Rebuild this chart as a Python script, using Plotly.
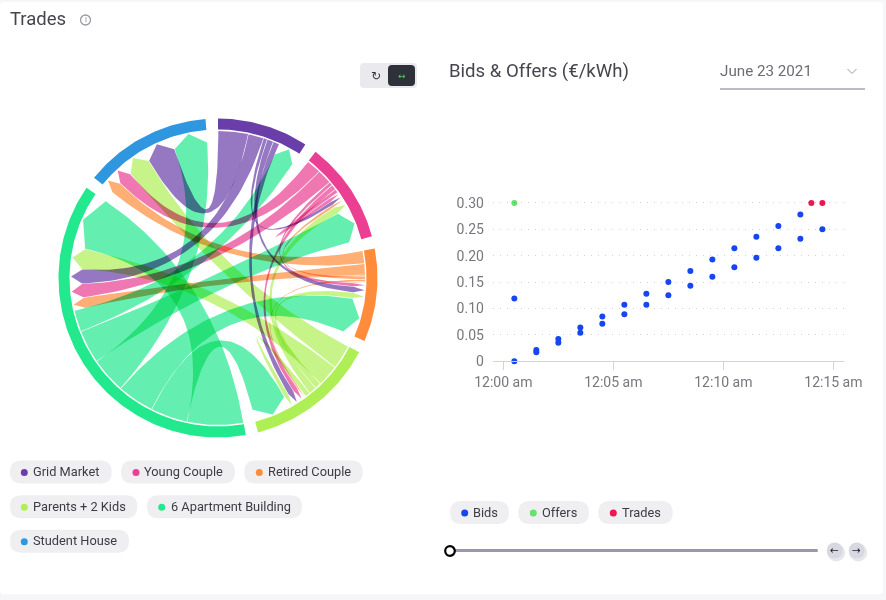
import numpy as np
import plotly.graph_objects as go

W, H = 886, 600

# chord data, names in clockwise order round the circle
groups = ["Grid Market", "Young Couple", "Retired Couple", "Parents + 2 Kids", "6 Apartment Building", "Student House"]
group_colors = ["#6a3ea8", "#ea3f92", "#ff8c3a", "#aeef55", "#22e88e", "#2f96e0"]

# one row per flow: from, to, energy traded
flow_from = [0, 0, 0, 0, 0,
             1, 1, 1, 1, 1,
             2, 2, 2, 2, 2,
             3, 3, 3, 3, 3,
             4, 4, 4, 4, 4, 4]
flow_to = [5, 4, 1, 2, 3,
           5, 4, 2, 3, 1,
           5, 4, 2, 1, 3,
           5, 4, 2, 1, 3,
           4, 3, 2, 5, 1, 0]
flow_val = [11.8, 6.1, 1.5, 2.5, 2.5,
            5.8, 5.8, 1.5, 2.0, 1.5,
            5.0, 4.4, 0.6, 1.2, 0.8,
            9.5, 8.5, 2.5, 3.0, 2.0,
            22.0, 14.5, 14.5, 14.0, 13.0, 8.5]

# order of the ends inside each group going clockwise ("o" leaving, "i" arriving), by flow row
group_ends = [
    [("o", 0), ("o", 1), ("o", 2), ("o", 3), ("o", 4), ("i", 25)],
    [("o", 5), ("o", 6), ("o", 7), ("o", 8), ("o", 9), ("i", 9), ("i", 2), ("i", 13), ("i", 18), ("i", 24)],
    [("o", 10), ("o", 11), ("o", 12), ("o", 13), ("o", 14), ("i", 12), ("i", 7), ("i", 3), ("i", 17), ("i", 22)],
    [("o", 15), ("o", 16), ("o", 17), ("o", 18), ("o", 19), ("i", 14), ("i", 8), ("i", 4), ("i", 19), ("i", 21)],
    [("o", 20), ("o", 21), ("o", 22), ("o", 23), ("o", 24), ("o", 25), ("i", 11), ("i", 6), ("i", 1), ("i", 16), ("i", 20)],
    [("i", 10), ("i", 5), ("i", 15), ("i", 0), ("i", 23)],
]

# scatter data
bid_times = ["00:00:30", "00:00:30", "00:01:30", "00:01:30", "00:02:30", "00:02:30", "00:03:30", "00:03:30",
             "00:04:30", "00:04:30", "00:05:30", "00:05:30", "00:06:30", "00:06:30", "00:07:30", "00:07:30",
             "00:08:30", "00:08:30", "00:09:30", "00:09:30", "00:10:30", "00:10:30", "00:11:30", "00:11:30",
             "00:12:30", "00:12:30", "00:13:30", "00:13:30", "00:14:30"]
bid_prices = [0.119, 0.0, 0.0215, 0.017, 0.042, 0.035, 0.064, 0.054,
              0.085, 0.071, 0.107, 0.089, 0.128, 0.107, 0.15, 0.125,
              0.171, 0.143, 0.193, 0.16, 0.214, 0.178, 0.236, 0.196,
              0.256, 0.214, 0.278, 0.232, 0.25]
offer_times = ["00:00:30"]
offer_prices = [0.30]
trade_times = ["00:14:00", "00:14:30"]
trade_prices = [0.30, 0.30]

x_ticks = ["00:00:00", "00:05:00", "00:10:00", "00:15:00"]
x_labels = ["12:00 am", "12:05 am", "12:10 am", "12:15 am"]
y_ticks = [0, 0.05, 0.10, 0.15, 0.20, 0.25, 0.30]
y_labels = ["0", "0.05", "0.10", "0.15", "0.20", "0.25", "0.30"]

DAY = "2021-06-23 "
FONT = "Roboto"
TEXT = "#3c3c44"
CHIP = "#efeff2"


def px(x):
    return x / W


def py(y):
    return 1 - y / H


def pol(r, a):
    # a in radians clockwise from 12 o'clock
    return r * np.sin(a), r * np.cos(a)


def arc(r, a0, a1):
    a = np.linspace(a0, a1, max(2, int(abs(a1 - a0) * 60)))
    return r * np.sin(a), r * np.cos(a)


def bend(p0, p1):
    # quadratic curve pulled towards the centre of the circle
    t = np.linspace(0, 1, 50)
    return (1 - t) ** 2 * p0[0] + t ** 2 * p1[0], (1 - t) ** 2 * p0[1] + t ** 2 * p1[1]


R_OUT, R_IN, R_RIB, HEAD = 159.5, 148.5, 147, 11
PAD = np.radians(4.5)
SEAM = np.radians(0.12)  # white hairline between neighbouring ends

totals = [sum(flow_val[k] for _, k in ends) for ends in group_ends]
scale = (2 * np.pi - PAD * len(groups)) / sum(totals)

fig = go.Figure()

# lay out group arcs and the two ends of each flow
group_arcs = []
start_ang, end_ang = {}, {}
a = 0.0
for g, ends in enumerate(group_ends):
    a0 = a
    for kind, k in ends:
        a1 = a + flow_val[k] * scale
        (start_ang if kind == "o" else end_ang)[k] = (a + SEAM, a1 - SEAM)
        a = a1
    group_arcs.append((a0, a))
    a += PAD

for k in range(len(flow_val)):
    sa0, sa1 = start_ang[k]
    ta0, ta1 = end_ang[k]
    r2 = R_RIB - HEAD
    xs, ys = arc(R_RIB, sa0, sa1)
    cx1, cy1 = bend(pol(R_RIB, sa1), pol(r2, ta0))
    tip = pol(R_RIB, (ta0 + ta1) / 2)
    sh2 = pol(r2, ta1)
    cx2, cy2 = bend(sh2, pol(R_RIB, sa0))
    col = group_colors[flow_from[k]]
    rgb = tuple(int(col[i:i + 2], 16) for i in (1, 3, 5))
    fig.add_trace(go.Scatter(
        x=np.concatenate([xs, cx1, [tip[0]], cx2]),
        y=np.concatenate([ys, cy1, [tip[1]], cy2]),
        mode="lines",
        fill="toself",
        fillcolor="rgba(%d,%d,%d,0.7)" % rgb,
        line=dict(width=0),
        hoverinfo="skip",
        showlegend=False,
    ))

for g, (a0, a1) in enumerate(group_arcs):
    xo, yo = arc(R_OUT, a0, a1)
    xi, yi = arc(R_IN, a1, a0)
    fig.add_trace(go.Scatter(
        x=np.concatenate([xo, xi]),
        y=np.concatenate([yo, yi]),
        mode="lines",
        fill="toself",
        fillcolor=group_colors[g],
        line=dict(width=0),
        name=groups[g],
        hoverinfo="name",
        showlegend=False,
    ))

# scatter panel
for name, tt, pp, col in [("Bids", bid_times, bid_prices, "#1546f0"),
                          ("Offers", offer_times, offer_prices, "#66e36a"),
                          ("Trades", trade_times, trade_prices, "#f0144f")]:
    fig.add_trace(go.Scatter(
        x=[DAY + t for t in tt],
        y=pp,
        mode="markers",
        marker=dict(color=col, size=6),
        name=name,
        xaxis="x2",
        yaxis="y2",
        cliponaxis=False,
        showlegend=False,
    ))

shapes = []
notes = []


def rect(x0, y0, x1, y1, color, radius=0, line=None):
    r = radius
    path = (f"M {px(x0 + r)} {py(y0)} L {px(x1 - r)} {py(y0)} Q {px(x1)} {py(y0)} {px(x1)} {py(y0 + r)} "
            f"L {px(x1)} {py(y1 - r)} Q {px(x1)} {py(y1)} {px(x1 - r)} {py(y1)} "
            f"L {px(x0 + r)} {py(y1)} Q {px(x0)} {py(y1)} {px(x0)} {py(y1 - r)} "
            f"L {px(x0)} {py(y0 + r)} Q {px(x0)} {py(y0)} {px(x0 + r)} {py(y0)} Z")
    shapes.append(dict(type="path", xref="paper", yref="paper", path=path, fillcolor=color,
                       line=line or dict(width=0), layer="below"))


def circle(x, y, r, color, line=None, layer="above"):
    shapes.append(dict(type="circle", xref="paper", yref="paper", x0=px(x - r), x1=px(x + r),
                       y0=py(y + r), y1=py(y - r), fillcolor=color, line=line or dict(width=0), layer=layer))


def text(x, y, s, size=12.8, color=TEXT, anchor="left", family=FONT):
    notes.append(dict(xref="paper", yref="paper", x=px(x), y=py(y), text=s, showarrow=False,
                      xanchor=anchor, yanchor="middle", borderpad=0, borderwidth=0, align="left",
                      font=dict(family=family, size=size, color=color)))


def seg(x0, y0, x1, y1, color, width):
    shapes.append(dict(type="line", xref="paper", yref="paper", x0=px(x0), x1=px(x1), y0=py(y0), y1=py(y1),
                       line=dict(color=color, width=width)))


def chip(x0, x1, yc, dot_x, text_x, label, color):
    rect(x0, yc - 11.5, x1, yc + 11.5, CHIP, 11.5)
    circle(dot_x, yc + 0.5, 3.5, color)
    text(text_x, yc - 0.5, label)


# page frame
rect(0, 0, 886, 600, "#f6f6f8")
rect(0, 2, 883, 594, "#ffffff", 4)

# header
text(10, 19.5, "Trades", size=18.5, color="#45454d")
circle(85.5, 20, 5, "#ffffff", dict(color="#9a9aa6", width=1.3))
text(85.5, 20, "i", size=8, color="#8a8a96", anchor="center")

rect(360, 63, 417, 88, "#e9e9ee", 4)
rect(388, 65, 415, 86, "#2e313a", 4)
text(375.5, 75.5, "↻", size=12, color="#33333a", anchor="center", family="DejaVu Sans")
text(401.5, 75.5, "↔", size=9, color="#5fc765", anchor="center", family="DejaVu Sans")

text(449, 71.5, "Bids & Offers (€/kWh)", size=18.6, color="#45454d")
text(720, 71.5, "June 23 2021", size=15.2, color="#6c6c74")
seg(847.5, 69, 852, 73.5, "#9a9aa6", 1)
seg(852, 73.5, 856.5, 69, "#9a9aa6", 1)
seg(720, 89, 865, 89, "#a5a3b2", 1.3)

# chord legend
chip(10, 111.7, 472, 24.3, 33.3, groups[0], group_colors[0])
chip(121, 235, 472, 136, 144.3, groups[1], group_colors[1])
chip(244.3, 362.7, 472, 259.3, 267.7, groups[2], group_colors[2])
chip(10, 137.3, 506.8, 24.3, 33.3, groups[3], group_colors[3])
chip(147, 302, 506.8, 161.7, 170.7, groups[4], group_colors[4])
chip(10, 129, 541.3, 24.3, 33.3, groups[5], group_colors[5])

# scatter legend
chip(450, 509, 512.5, 464.7, 472.7, "Bids", "#1546f0")
chip(518.3, 589, 512.5, 533.3, 541.7, "Offers", "#66e36a")
chip(598.3, 672.7, 512.5, 613.3, 622, "Trades", "#f0144f")

# slider
seg(450, 550.5, 817.7, 550.5, "#9a98a8", 3)
circle(450, 551, 4.8, "#ffffff", dict(color="#000000", width=2.2))
for bx, arrow in [(834.7, "←"), (856.7, "→")]:
    circle(bx + 1.5, 552.5, 9, "rgba(120,120,140,0.18)")
    circle(bx, 550.5, 8, "#d8d8e2")
    text(bx, 550, arrow, size=10.5, color="#222228", anchor="center", family="DejaVu Sans")

fig.update_layout(
    width=W,
    height=H,
    margin=dict(l=0, r=0, t=0, b=0),
    autosize=False,
    paper_bgcolor="#ffffff",
    plot_bgcolor="rgba(0,0,0,0)",
    showlegend=False,
    shapes=shapes,
    annotations=notes,
    font=dict(family=FONT, size=13, color="#77777f"),
    # chord panel, units are the circle radii above
    xaxis=dict(domain=[px(48), px(388)], range=[-170, 170], visible=False, fixedrange=True, automargin=False),
    yaxis=dict(domain=[py(448), py(108)], range=[-170, 170], visible=False, fixedrange=True, automargin=False),
    xaxis2=dict(
        domain=[px(492.7), px(844)],
        # axis runs from about 29 s before the first tick to about 29 s after the last
        range=["2021-06-22 23:59:31", "2021-06-23 00:15:29"],
        type="date",
        anchor="y2",
        automargin=False,
        tickmode="array",
        tickvals=[DAY + t for t in x_ticks],
        ticktext=x_labels,
        ticks="outside",
        ticklen=8,
        tickcolor="#d4d4d8",
        showline=True,
        linecolor="#d4d4d8",
        showgrid=False,
        zeroline=False,
        tickfont=dict(size=14, color="#77777f"),
    ),
    yaxis2=dict(
        domain=[py(361.3), py(190)],
        range=[0, 0.3244],
        anchor="x2",
        automargin=False,
        tickmode="array",
        tickvals=y_ticks,
        ticktext=y_labels,
        ticks="outside",
        ticklen=5,
        tickcolor="rgba(0,0,0,0)",
        showgrid=True,
        gridcolor="#d0d0d6",
        griddash="1px,6px",
        gridwidth=1,
        zeroline=False,
        tickfont=dict(size=14, color="#77777f"),
    ),
)

# page margin off, ribbons multiply where they cross as in the original
fig.write_html("out.html", config={"displayModeBar": False}, post_script="""
document.body.style.margin = '0';
document.querySelectorAll('.scatterlayer .trace').forEach(function (t) { t.style.mixBlendMode = 'multiply'; });
""")
